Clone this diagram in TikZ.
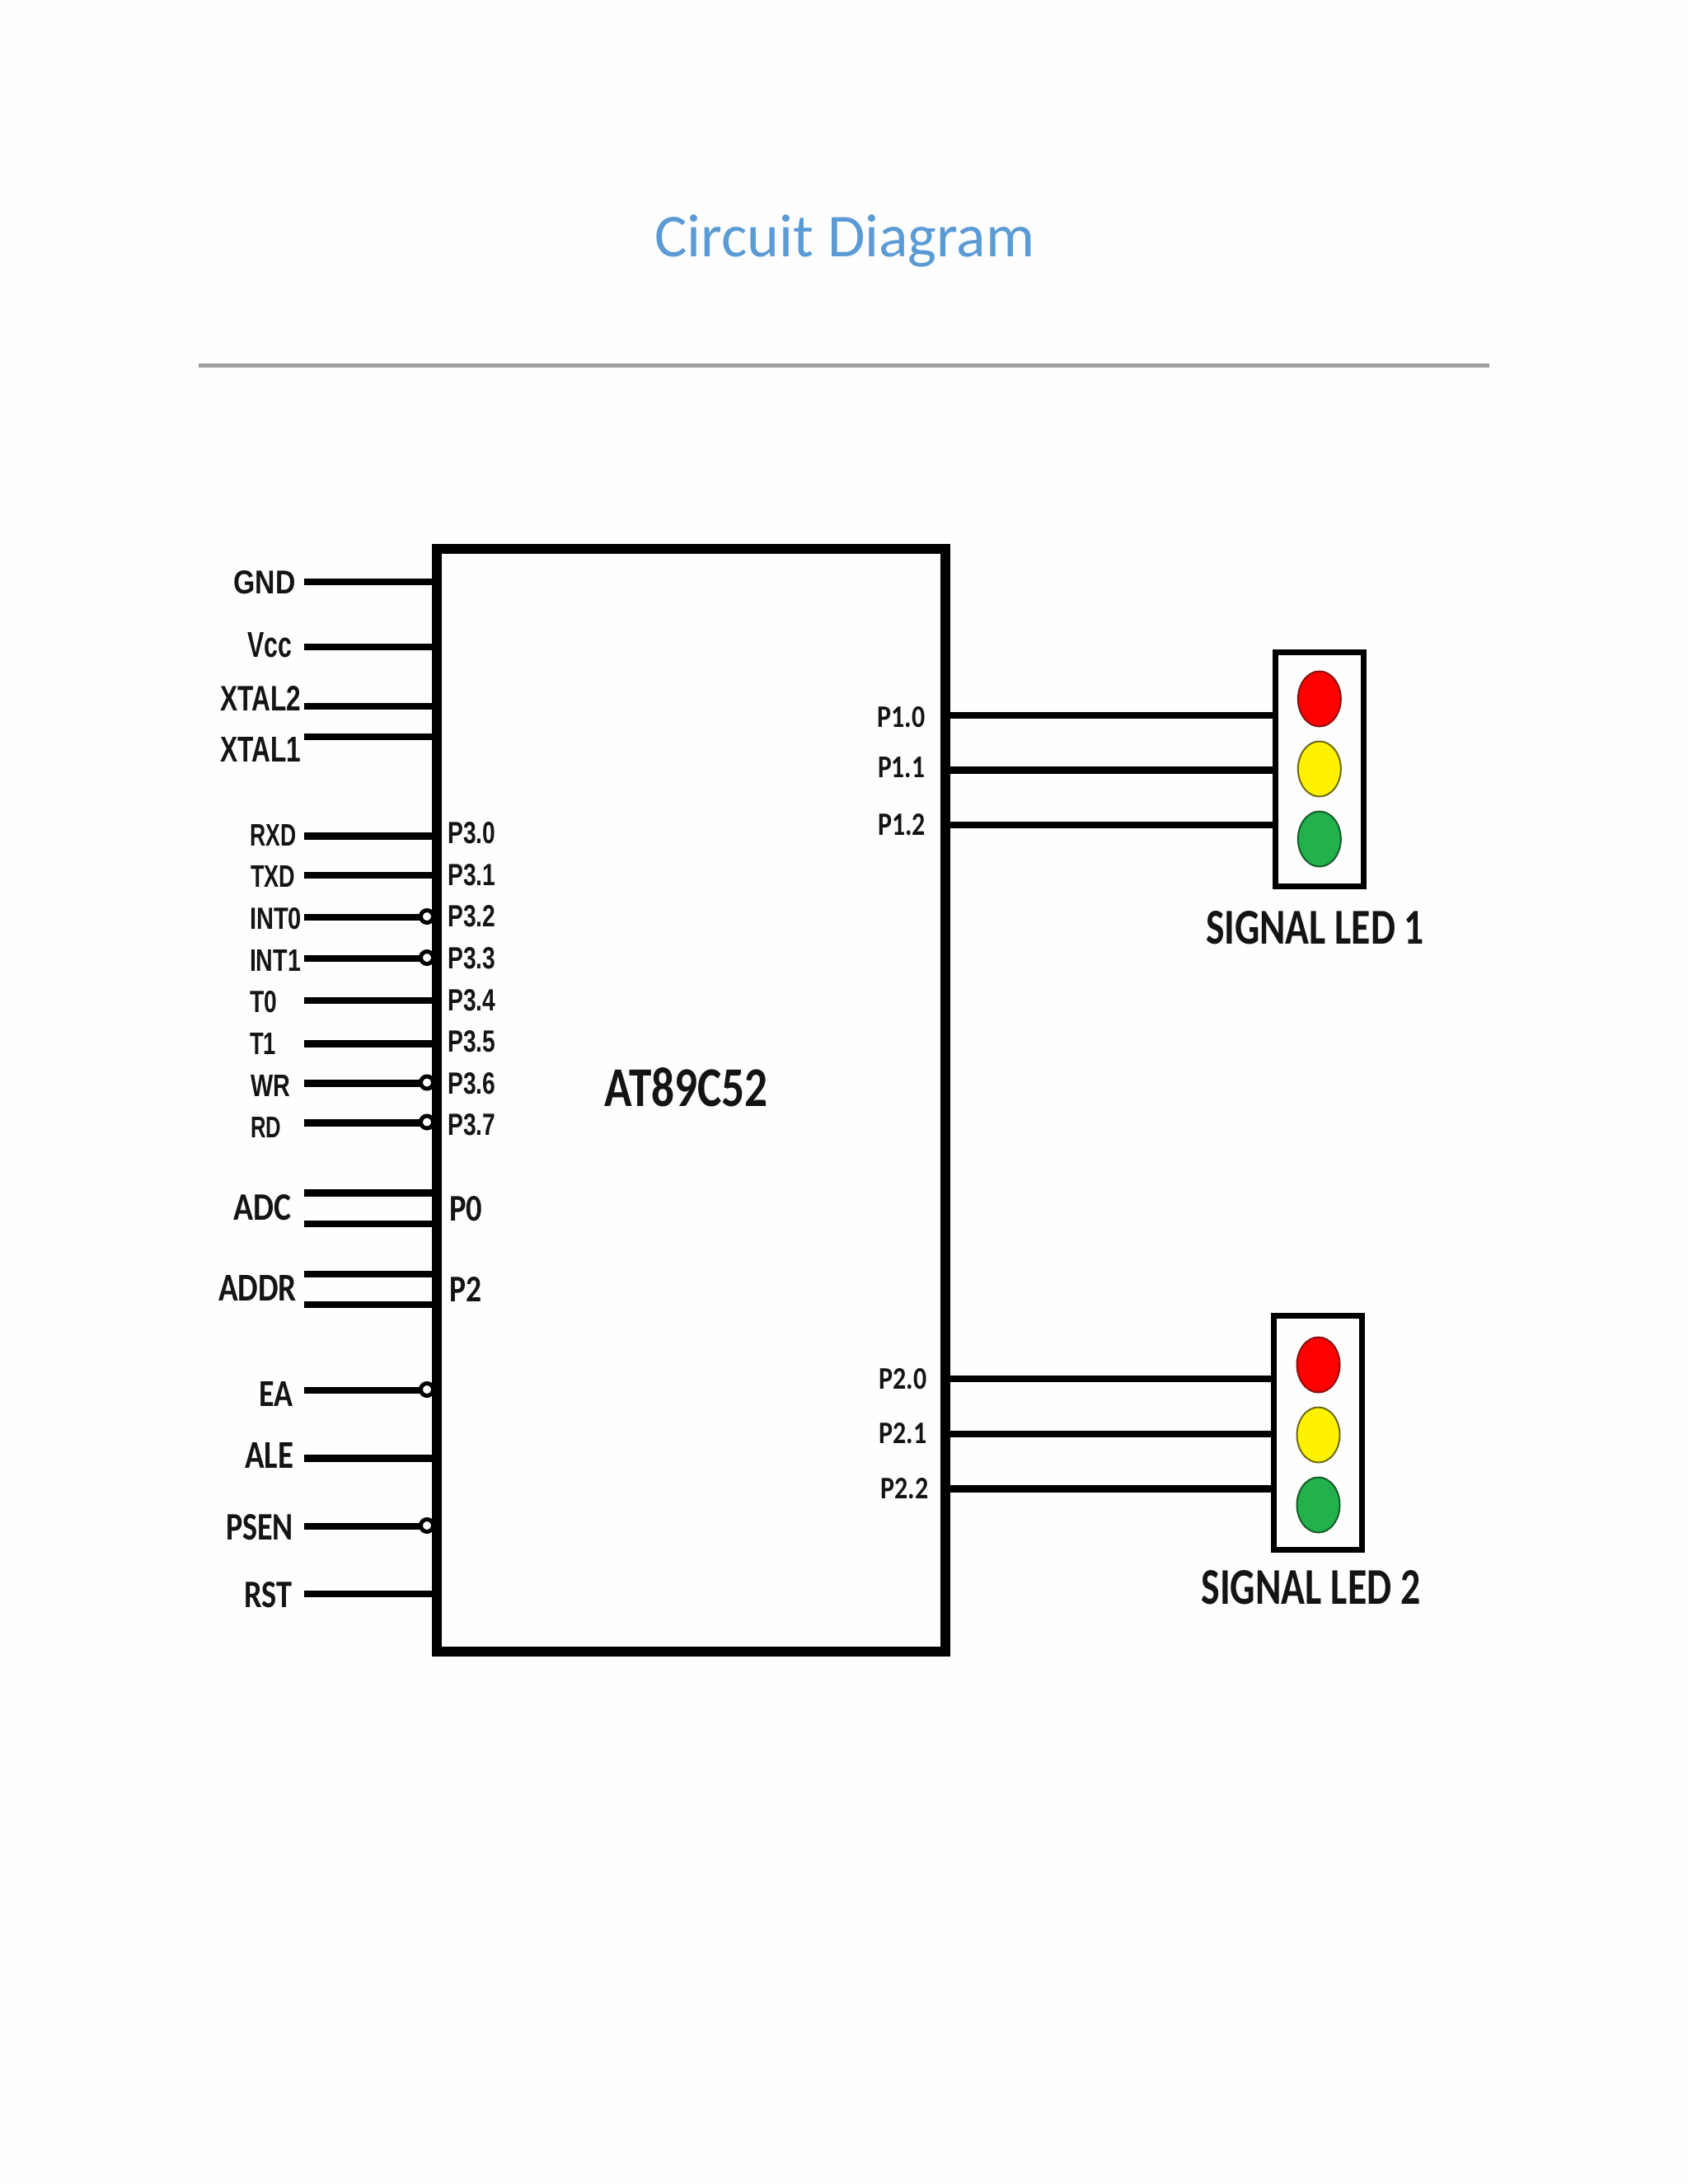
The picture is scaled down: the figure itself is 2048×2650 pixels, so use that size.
\documentclass[tikz,border=0pt]{standalone}
\usepackage{fontspec}
\usepackage{graphicx}
\usetikzlibrary{shapes.geometric,backgrounds}
\setmainfont{Carlito}
\newfontfamily\wideface{Liberation Sans}
\definecolor{inkblack}{HTML}{141414}
\definecolor{titleblue}{HTML}{5B9BD5}
\definecolor{rulegrey}{HTML}{A0A0A0}
\definecolor{pagewhite}{HTML}{FEFEFE}
\definecolor{ledred}{HTML}{FE0000}
\definecolor{ledredline}{HTML}{8A1010}
\definecolor{ledyellow}{HTML}{FFF200}
\definecolor{ledyellowline}{HTML}{6E6A10}
\definecolor{ledgreen}{HTML}{22B14C}
\definecolor{ledgreenline}{HTML}{145E2A}
\newlength\pxu
\setlength\pxu{0.03cm}
\newcommand{\fitbox}[3]{\resizebox{#1\pxu}{#2\pxu}{#3}}
\tikzset{
  x=0.03cm, y=-0.03cm,
  wire/.style={line width=8.5\pxu, black},
  chipbox/.style={draw=black, line width=11.5\pxu, rectangle, inner sep=0pt, outer sep=0pt, minimum width=617\pxu, minimum height=1338\pxu},
  ledbox/.style={draw=black, line width=7\pxu, rectangle, inner sep=0pt, outer sep=0pt, minimum width=107\pxu, minimum height=284\pxu},
  lamp/.style={ellipse, inner sep=0pt, outer sep=0pt, line width=2\pxu, minimum width=52\pxu, minimum height=67\pxu},
  bubble/.style={circle, draw=black, fill=white, line width=5\pxu, inner sep=0pt, outer sep=0pt, minimum size=15\pxu},
  widelabel/.style={inner sep=0pt, text=inkblack, font=\wideface\bfseries\fontsize{22}{26}\selectfont},
  caliblabel/.style={inner sep=0pt, text=inkblack, font=\bfseries\fontsize{28}{32}\selectfont},
}
\begin{document}
\begin{tikzpicture}
\useasboundingbox (0,0) rectangle (2048,2650);

% title and rule
\node[anchor=base, inner sep=0pt, text=titleblue, font=\fontsize{60}{70}\selectfont] (title) at (1025,311) {\resizebox{461\pxu}{!}{Circuit Diagram}};
\coordinate (ruleL) at (241,443.5);
\coordinate (ruleR) at (1807,443.5);
\draw[rulegrey, line width=5\pxu] (ruleL) -- (ruleR);

% chip and signal boxes
\node[chipbox] (chip) at (838.5,1335) {};
\node[ledbox] (ledA) at (1601,933) {};
\node[ledbox] (ledB) at (1599,1738.7) {};

\begin{scope}[on background layer]
  \fill[pagewhite] (0,0) rectangle (2048,2650);
  % plain pins on the left
  \foreach \y [count=\i] in {706,785,857,894,1014.5,1062,1214,1266.5,1447.7,1485,1546,1583,1769.4,1934} {
    \coordinate (w\i) at (369,\y);
    \draw[wire] (w\i) -- (w\i -| chip.west);
  }
  % inverted pins with a bubble
  \foreach \y [count=\i] in {1113,1163,1314.5,1362.5,1687,1852} {
    \coordinate (v\i) at (369,\y);
    \node[bubble] (b\i) at (518,\y-1) {};
    \draw[wire] (v\i) -- (v\i -| b\i.west);
  }
\end{scope}

% pins on the right
\foreach \y [count=\i] in {868,934.7,1001} {
  \coordinate (ra\i) at (1147,\y);
  \draw[wire] (ra\i) -- (ra\i -| ledA.west);
}
\foreach \y [count=\i] in {1673,1740,1806.7} {
  \coordinate (rb\i) at (1147,\y);
  \draw[wire] (rb\i) -- (rb\i -| ledB.west);
}

% lamps
\node[lamp, fill=ledred, draw=ledredline] (a1) at (1600.8,848) {};
\node[lamp, fill=ledyellow, draw=ledyellowline] (a2) at (1600.8,933) {};
\node[lamp, fill=ledgreen, draw=ledgreenline] (a3) at (1600.8,1018) {};
\node[lamp, fill=ledred, draw=ledredline] (c1) at (1599.5,1656) {};
\node[lamp, fill=ledyellow, draw=ledyellowline] (c2) at (1599.5,1741) {};
\node[lamp, fill=ledgreen, draw=ledgreenline] (c3) at (1599.5,1826) {};

% upper left labels
\node[widelabel] (lGND) at (321,707) {\fitbox{75}{28}{GND}};
\node[widelabel] (lVcc) at (327.5,783) {\fitbox{54}{30}{Vcc}};
\node[widelabel] (lX2) at (316,847.5) {\fitbox{98}{30}{XTAL2}};
\node[widelabel] (lX1) at (316,909.5) {\fitbox{98}{30}{XTAL1}};
\node[widelabel] (lRXD) at (331.5,1013.5) {\fitbox{56}{26}{RXD}};
\node[widelabel] (lTXD) at (331,1063) {\fitbox{54}{26}{TXD}};
\node[widelabel] (lI0) at (334.5,1114.5) {\fitbox{63}{26}{INT0}};
\node[widelabel] (lI1) at (334,1165.5) {\fitbox{62}{26}{INT1}};
\node[widelabel] (lT0) at (319.5,1215.5) {\fitbox{33}{26}{T0}};
\node[widelabel] (lT1) at (319,1266.5) {\fitbox{32}{26}{T1}};
\node[widelabel] (lWR) at (328,1317.5) {\fitbox{48}{26}{WR}};
\node[widelabel] (lRD) at (322.5,1367.5) {\fitbox{37}{25}{RD}};

% port labels inside the chip
\foreach \t/\y [count=\i] in {P3.0/1010.5,P3.1/1061.5,P3.2/1111.5,P3.3/1162.5,P3.4/1213.5,P3.5/1263.5,P3.6/1314.5,P3.7/1364.5} {
  \node[widelabel] (pt\i) at (572.5,\y) {\fitbox{58}{26}{\t}};
}

% lower left labels
\node[caliblabel] (lADC) at (318,1465) {\fitbox{70}{31}{ADC}};
\node[caliblabel] (lP0) at (565,1466.5) {\fitbox{40}{30}{P0}};
\node[caliblabel] (lADDR) at (312.5,1563) {\fitbox{95}{31}{ADDR}};
\node[caliblabel] (lP2) at (565,1564) {\fitbox{39}{30}{P2}};
\node[caliblabel] (lEA) at (334.5,1691) {\fitbox{41}{30}{EA}};
\node[caliblabel] (lALE) at (326.5,1765.5) {\fitbox{59}{31}{ALE}};
\node[caliblabel] (lPSEN) at (315,1853.5) {\fitbox{82}{31}{PSEN}};
\node[caliblabel] (lRST) at (325,1935) {\fitbox{58}{31}{RST}};

% right labels
\node[caliblabel] (lP10) at (1093.5,870.5) {\fitbox{58}{25}{P1.0}};
\node[caliblabel] (lP11) at (1093.5,931.5) {\fitbox{57}{25}{P1.1}};
\node[caliblabel] (lP12) at (1094,1000.5) {\fitbox{58}{26}{P1.2}};
\node[caliblabel] (lP20) at (1095.5,1673) {\fitbox{58}{25}{P2.0}};
\node[caliblabel] (lP21) at (1095.5,1739) {\fitbox{58}{25}{P2.1}};
\node[caliblabel] (lP22) at (1097.5,1806) {\fitbox{58}{25}{P2.2}};
\node[caliblabel] (sigA) at (1595.5,1126) {\fitbox{265}{40}{SIGNAL LED 1}};
\node[caliblabel] (sigB) at (1590.5,1926.5) {\fitbox{266}{41}{SIGNAL LED 2}};
\node[caliblabel] (chipname) at (833,1319) {\fitbox{198}{47}{AT89C52}};
\end{tikzpicture}
\end{document}
